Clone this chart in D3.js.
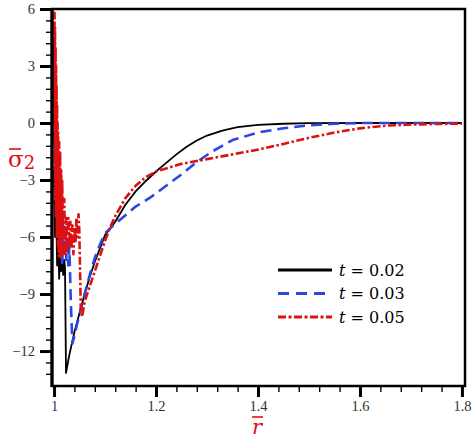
<!DOCTYPE html>
<html>
<head>
<meta charset="utf-8">
<script src="https://cdn.jsdelivr.net/npm/d3@7"></script>
<style>
  body { margin: 0; background: #fff; }
  svg { display: block; }
  .tick text { font-family: "Liberation Serif", serif; }
</style>
</head>
<body>
<svg id="svg"></svg>
<script>
// t = 0.02 (black, solid)
const blackR = [1.000, 1.002, 1.004, 1.006, 1.008, 1.010, 1.012, 1.014, 1.016, 1.018, 1.020, 1.0215, 1.0235,
  1.03, 1.04, 1.05, 1.06, 1.07, 1.08, 1.09, 1.10, 1.12, 1.14, 1.16, 1.18, 1.20, 1.22, 1.24, 1.26, 1.28, 1.30,
  1.33, 1.36, 1.40, 1.45, 1.50, 1.60, 1.80];
const blackS = [-2.5, -6, -4, -7.5, -5.5, -8.2, -6.8, -7.8, -7.0, -8.0, -7.2, -7.6, -13.15,
  -12.2, -11.0, -10.0, -9.0, -8.1, -7.3, -6.6, -5.9, -5.2, -4.3, -3.6, -3.05, -2.55, -2.1, -1.65, -1.25, -0.92, -0.66,
  -0.4, -0.22, -0.1, -0.04, -0.01, 0, 0];

// t = 0.03 (blue, dashed)
const blueR = [1.000, 1.0012, 1.002, 1.003, 1.004, 1.005, 1.006, 1.007, 1.008, 1.010, 1.012, 1.014, 1.016, 1.018,
  1.020, 1.022, 1.024, 1.026, 1.028, 1.030, 1.033, 1.036, 1.04, 1.045, 1.05, 1.06, 1.07, 1.08, 1.09, 1.10, 1.12,
  1.14, 1.16, 1.19, 1.22, 1.25, 1.28, 1.31, 1.35, 1.40, 1.45, 1.50, 1.55, 1.60, 1.80];
const blueS = [-1, 4.5, -2, 1, -4, -1.5, -5, -2.5, -6, -3, -7, -4.5, -7.5, -5,
  -7, -5.5, -7.2, -6, -7.5, -6.5, -9.5, -11.6, -11.2, -10.6, -10.1, -9.0, -8.0, -7.1, -6.4, -5.8, -5.3,
  -4.85, -4.4, -3.9, -3.3, -2.7, -2.05, -1.5, -0.9, -0.5, -0.28, -0.12, -0.04, 0, 0];

// t = 0.05 (red, dash-dot)
const redR = [1.000, 1.001, 1.0015, 1.002, 1.0025, 1.003, 1.0035, 1.004, 1.0045, 1.005, 1.0055, 1.006, 1.0065,
  1.007, 1.0075, 1.008, 1.009, 1.010, 1.011, 1.012, 1.013, 1.014, 1.015, 1.016, 1.018, 1.020, 1.022, 1.024,
  1.026, 1.028, 1.030, 1.032, 1.034, 1.036, 1.038, 1.040, 1.042, 1.044, 1.046, 1.048, 1.0495, 1.0525, 1.055,
  1.06, 1.07, 1.08, 1.09, 1.10, 1.11, 1.12, 1.14, 1.16, 1.18, 1.20, 1.25, 1.30, 1.35, 1.40, 1.45, 1.50, 1.55,
  1.60, 1.65, 1.70, 1.75, 1.80];
const redS = [0, 5.8, -3, 5, -4, 4, -5, 3, -4.5, 2, -6, 1, -5,
  0, -6.5, -0.5, -7, -1, -6.5, -1.5, -7.2, -2.5, -6, -3, -7, -4, -7, -5,
  -6.8, -5, -6.5, -5.2, -6.6, -5.4, -6.9, -5.5, -6.3, -5.0, -6.0, -4.8, -5.6, -9.8, -10.2,
  -9.4, -8.6, -7.8, -7.0, -6.2, -5.5, -4.9, -3.95, -3.3, -2.85, -2.55, -2.15, -1.9, -1.65, -1.4, -1.1, -0.78, -0.5,
  -0.28, -0.14, -0.08, -0.05, -0.03];

const legendLabels = ["0.02", "0.03", "0.05"];
const xTicks = [1, 1.2, 1.4, 1.6, 1.8];
const yTicks = [6, 3, 0, -3, -6, -9, -12];

const layout = {width: 474, height: 438, left: 52, right: 465, top: 9, bottom: 386};

const svg = d3.select("#svg")
  .attr("width", layout.width)
  .attr("height", layout.height);

const x = d3.scaleLinear().domain([0.996, 1.806]).range([layout.left, layout.right]);
const y = d3.scaleLinear().domain([-13.84, 6]).range([layout.bottom, layout.top]);

const series = [
  {r: blackR, s: blackS, color: "#000000", width: 1.8, dash: null},
  {r: blueR, s: blueS, color: "#2e46e0", width: 2.6, dash: "11,6"},
  {r: redR, s: redS, color: "#dd1111", width: 2.6, dash: "8,2.5,2.5,2.5"}
];

svg.append("defs").append("clipPath").attr("id", "clip")
  .append("rect")
  .attr("x", layout.left).attr("y", layout.top)
  .attr("width", layout.right - layout.left).attr("height", layout.bottom - layout.top);

const line = d3.line()
  .x(d => x(d[0]))
  .y(d => y(d[1]));

const plot = svg.append("g").attr("clip-path", "url(#clip)");

series.forEach(sr => {
  plot.append("path")
    .datum(sr.r.map((r, i) => [r, sr.s[i]]))
    .attr("d", line)
    .attr("fill", "none")
    .attr("stroke", sr.color)
    .attr("stroke-width", sr.width)
    .attr("stroke-dasharray", sr.dash)
    .attr("stroke-linejoin", "round");
});

// minor ticks
const xMinor = d3.range(1, 1.8001, 0.04).filter(v => !xTicks.some(t => Math.abs(t - v) < 1e-6));
const yMinor = d3.range(-13.2, 6.001, 0.6).filter(v => !yTicks.some(t => Math.abs(t - v) < 1e-6));

const xAxisMinor = svg.append("g")
  .attr("transform", `translate(0,${layout.bottom})`)
  .call(d3.axisBottom(x).tickValues(xMinor).tickSize(6).tickFormat(""));
const xAxis = svg.append("g")
  .attr("transform", `translate(0,${layout.bottom})`)
  .call(d3.axisBottom(x).tickValues(xTicks).tickSize(11).tickPadding(4).tickFormat(d3.format("")));

const yAxisMinor = svg.append("g")
  .attr("transform", `translate(${layout.left},0)`)
  .call(d3.axisLeft(y).tickValues(yMinor).tickSize(6).tickFormat(""));
const yAxis = svg.append("g")
  .attr("transform", `translate(${layout.left},0)`)
  .call(d3.axisLeft(y).tickValues(yTicks).tickSize(12).tickPadding(5));

[xAxisMinor, xAxis, yAxisMinor, yAxis].forEach(g => g.select(".domain").remove());
[xAxisMinor, yAxisMinor].forEach(g => g.selectAll("line").attr("stroke-width", 1.4));
[xAxis, yAxis].forEach(g => {
  g.attr("font-family", null);
  g.selectAll("line").attr("stroke-width", 3);
  g.selectAll("text")
    .style("font-family", "'Liberation Serif', serif")
    .attr("font-size", 14.5)
    .attr("fill", "#333");
});
xAxis.selectAll("text").filter(d => d === 1).attr("fill", "#2a2a99");

// frame
svg.append("rect")
  .attr("x", layout.left).attr("y", layout.top)
  .attr("width", layout.right - layout.left).attr("height", layout.bottom - layout.top)
  .attr("fill", "none").attr("stroke", "#000").attr("stroke-width", 2.5);
svg.append("line")
  .attr("x1", layout.left).attr("x2", layout.left)
  .attr("y1", layout.top).attr("y2", layout.bottom + 1)
  .attr("stroke", "#000").attr("stroke-width", 3.2);

// axis labels (bars drawn as short strokes over the glyphs)
const red = "#dd1111";
const yLab = svg.append("text")
  .attr("x", 8).attr("y", 167)
  .style("font-family", "'DejaVu Serif', serif")
  .attr("font-size", 23)
  .attr("fill", red);
yLab.append("tspan").text("\u03C3");
yLab.append("tspan").attr("font-size", 18).attr("dy", 2).text("2");
svg.append("line")
  .attr("x1", 9).attr("x2", 21).attr("y1", 149).attr("y2", 149)
  .attr("stroke", red).attr("stroke-width", 1.6);

svg.append("text")
  .attr("x", 257).attr("y", 434)
  .attr("text-anchor", "middle")
  .style("font-family", "'DejaVu Serif', serif")
  .attr("font-style", "italic")
  .attr("font-size", 21)
  .attr("fill", red)
  .text("r");
svg.append("line")
  .attr("x1", 252).attr("x2", 263).attr("y1", 417).attr("y2", 417)
  .attr("stroke", red).attr("stroke-width", 1.6);

// legend
const legend = svg.append("g");
series.forEach((sr, i) => {
  const ly = 270 + i * 23.5;
  legend.append("line")
    .attr("x1", 278).attr("x2", 332)
    .attr("y1", ly).attr("y2", ly)
    .attr("stroke", sr.color)
    .attr("stroke-width", 3.2)
    .attr("stroke-dasharray", i === 1 ? "11,7" : i === 2 ? "8,2.5,3,2.5" : null);
  const t = legend.append("text")
    .attr("x", 339).attr("y", ly + 5.5)
    .style("font-family", "'DejaVu Serif', serif")
    .attr("font-size", 16)
    .attr("fill", "#000");
  t.append("tspan").attr("font-style", "italic").text("t");
  t.append("tspan").text(" = " + legendLabels[i]);
});
</script>
</body>
</html>
